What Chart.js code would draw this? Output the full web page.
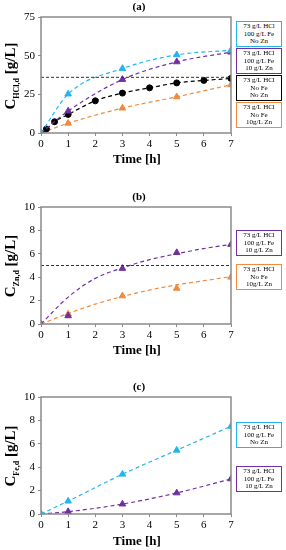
<!DOCTYPE html>
<html>
<head>
<meta charset="utf-8">
<script src="https://cdn.jsdelivr.net/npm/chart.js@4/dist/chart.umd.min.js"></script>
<style>
    body { margin: 0; background: #fff; width: 286px; height: 550px; position: relative; overflow: hidden; font-family: "Liberation Serif", serif; }
    canvas { position: absolute; left: 0; }
    .title { position: absolute; width: 286px; left: -4px; text-align: center; font-weight: bold; font-size: 11px; }
    .xtitle { position: absolute; width: 286px; left: -6px; text-align: center; font-weight: bold; font-size: 13px; }
    .ytitle { position: absolute; left: 11px; font-weight: bold; font-size: 15px; white-space: nowrap; transform: translate(-50%, -50%) rotate(-90deg); }
    .ytitle sub { font-size: 8px; }
    .box { position: absolute; left: 236px; width: 44px; height: 23px; border: 1px solid; text-align: center; font-size: 7px; line-height: 7.7px; padding-top: 1px; background: #fff; }
</style>
</head>
<body>
<canvas id="chart-a"></canvas>
<canvas id="chart-b"></canvas>
<canvas id="chart-c"></canvas>

<div class="title" style="top:0px">(a)</div>
<div class="title" style="top:190px">(b)</div>
<div class="title" style="top:380px">(c)</div>

<div class="ytitle" style="top:76px">C<sub>HCl,d</sub> [g/L]</div>
<div class="ytitle" style="top:266px">C<sub>Zn,d</sub> [g/L]</div>
<div class="ytitle" style="top:456px">C<sub>Fe,d</sub> [g/L]</div>

<div class="xtitle" style="top:151px">Time [h]</div>
<div class="xtitle" style="top:342px">Time [h]</div>
<div class="xtitle" style="top:533px">Time [h]</div>

<div class="box" style="top:21px;border-color:#22b5ee">73 g/L HCl<br>100 g/L Fe<br>No Zn</div>
<div class="box" style="top:48px;border-color:#7030a0">73 g/L HCl<br>100 g/L Fe<br>10 g/L Zn</div>
<div class="box" style="top:75px;border-color:#000">73 g/L HCl<br>No Fe<br>No Zn</div>
<div class="box" style="top:102px;border-color:#f08a3c">73 g/L HCl<br>No Fe<br>10g/L Zn</div>

<div class="box" style="top:230px;border-color:#7030a0">73 g/L HCl<br>100 g/L Fe<br>10 g/L Zn</div>
<div class="box" style="top:264px;border-color:#f08a3c">73 g/L HCl<br>No Fe<br>10g/L Zn</div>

<div class="box" style="top:422px;border-color:#22b5ee">73 g/L HCl<br>100 g/L Fe<br>No Zn</div>
<div class="box" style="top:466px;border-color:#7030a0">73 g/L HCl<br>100 g/L Fe<br>10 g/L Zn</div>

<script>
/* ------------------------------- Data -------------------------------*/

const CYAN = "#22b5ee";
const PURPLE = "#7030a0";
const ORANGE = "#f08a3c";
const BLACK = "#000000";

const T_MAIN = [0, 1, 3, 5, 7];                                   // часи відбору проб [h]
const T_BLACK = [0, 0.2, 0.5, 1, 2, 3, 4, 5, 6, 7];
const T_CURVE = [0, 1, 2, 3, 4, 5, 6, 7];

// (a) HCl
const HCL_FE_NOZN = [0, 25.2, 41.7, 50.5, 53.5];
const HCL_FE_ZN = [0, 14.2, 34.6, 46, 52.3];
const HCL_NOFE_NOZN = [0, 2.6, 7.3, 12, 20.8, 25.8, 29.2, 32.4, 34, 35.3];
const HCL_NOFE_ZN = [0, 6.3, 16.1, 23.4, 31.2];
const HCL_LIMIT = 36;

// (b) Zn
const ZN_FE_ZN = [0, 0.7, 4.75, 6.1, 6.8];
const ZN_FE_ZN_CURVE = [0, 2.3, 3.9, 4.8, 5.5, 6.0, 6.45, 6.8];
const ZN_NOFE_ZN = [0, 0.85, 2.4, 3.05, 4.0];
const ZN_NOFE_ZN_CURVE = [0, 0.9, 1.7, 2.35, 2.9, 3.35, 3.7, 4.05];
const ZN_LIMIT = 5;

// (c) Fe
const FE_FE_NOZN = [0, 1.1, 3.4, 5.45, 7.5];
const FE_FE_ZN = [0, 0.2, 0.85, 1.8, 3.0];

/* ------------------------------- Helpers -------------------------------*/

function toPoints(xs, ys) {
    return xs.map((x, i) => ({ x: x, y: ys[i] }));
}

function markers(xs, ys, color, style) {                           // точки вимірювань з пунктирною лінією
    return {
        data: toPoints(xs, ys),
        borderColor: color,
        backgroundColor: color,
        borderWidth: 1.2,
        borderDash: [4, 3],
        pointStyle: style,
        pointRadius: style == "circle" ? 3 : 3.8,
        pointBorderWidth: 1,
        cubicInterpolationMode: "monotone",
        showLine: true
    };
}

function curve(xs, ys, color) {                                    // апроксимаційна крива без точок
    return {
        data: toPoints(xs, ys),
        borderColor: color,
        borderWidth: 1.2,
        borderDash: [4, 3],
        pointRadius: 0,
        cubicInterpolationMode: "monotone"
    };
}

function limit(value) {                                            // горизонтальна пунктирна лінія
    return {
        data: toPoints([0, 7], [value, value]),
        borderColor: "#333",
        borderWidth: 1,
        borderDash: [3, 2],
        pointRadius: 0
    };
}

const frame = {
    id: "frame",
    afterDraw(chart) {
        const a = chart.chartArea, ctx = chart.ctx;
        ctx.save();
        ctx.strokeStyle = "#8a8a8a";
        ctx.lineWidth = 1.5;
        ctx.strokeRect(a.left, a.top, a.right - a.left, a.bottom - a.top);
        ctx.restore();
    }
};

function createConfig(datasets, yMax, yStep, rightPad) {
    const font = { family: "Liberation Serif", size: 11 };
    return {
        type: "line",
        data: { datasets: datasets },
        options: {
            responsive: false,
            animation: false,
            layout: { padding: { top: 17, right: rightPad, left: 0, bottom: 0 } },
            plugins: { legend: { display: false }, tooltip: { enabled: false } },
            scales: {
                x: {
                    type: "linear", min: 0, max: 7,
                    ticks: { stepSize: 1, color: "#000", font: font, padding: 2 },
                    grid: { drawOnChartArea: false, tickLength: 3, color: "#8a8a8a" },
                    border: { display: false },
                    afterFit: function (s) { s.height = 20; }
                },
                y: {
                    min: 0, max: yMax,
                    ticks: { stepSize: yStep, color: "#000", font: font, padding: 3 },
                    grid: { drawOnChartArea: false, tickLength: 3, color: "#8a8a8a" },
                    border: { display: false },
                    afterFit: function (s) { s.width = 41; }
                }
            }
        },
        plugins: [frame]
    };
}

/* ------------------------------- Charts -------------------------------*/

[{
    id: "chart-a", top: 0, height: 153, yMax: 75, yStep: 25, right: 4,
    datasets: [
        limit(HCL_LIMIT),
        markers(T_MAIN, HCL_FE_NOZN, CYAN, "triangle"),
        markers(T_MAIN, HCL_FE_ZN, PURPLE, "triangle"),
        markers(T_BLACK, HCL_NOFE_NOZN, BLACK, "circle"),
        markers(T_MAIN, HCL_NOFE_ZN, ORANGE, "triangle")
    ]
}, {
    id: "chart-b", top: 190, height: 154, yMax: 10, yStep: 2, right: 2,
    datasets: [
        limit(ZN_LIMIT),
        curve(T_CURVE, ZN_FE_ZN_CURVE, PURPLE),
        Object.assign(markers(T_MAIN, ZN_FE_ZN, PURPLE, "triangle"), { showLine: false }),
        curve(T_CURVE, ZN_NOFE_ZN_CURVE, ORANGE),
        Object.assign(markers(T_MAIN, ZN_NOFE_ZN, ORANGE, "triangle"), { showLine: false })
    ]
}, {
    id: "chart-c", top: 380, height: 154, yMax: 10, yStep: 2, right: 3,
    datasets: [
        markers(T_MAIN, FE_FE_NOZN, CYAN, "triangle"),
        markers(T_MAIN, FE_FE_ZN, PURPLE, "triangle")
    ]
}].forEach(function (details) {
    const canvas = document.getElementById(details.id);
    canvas.width = 236;
    canvas.height = details.height;
    canvas.style.top = details.top + "px";
    new Chart(canvas.getContext("2d"),
        createConfig(details.datasets, details.yMax, details.yStep, details.right));
});
</script>
</body>
</html>
